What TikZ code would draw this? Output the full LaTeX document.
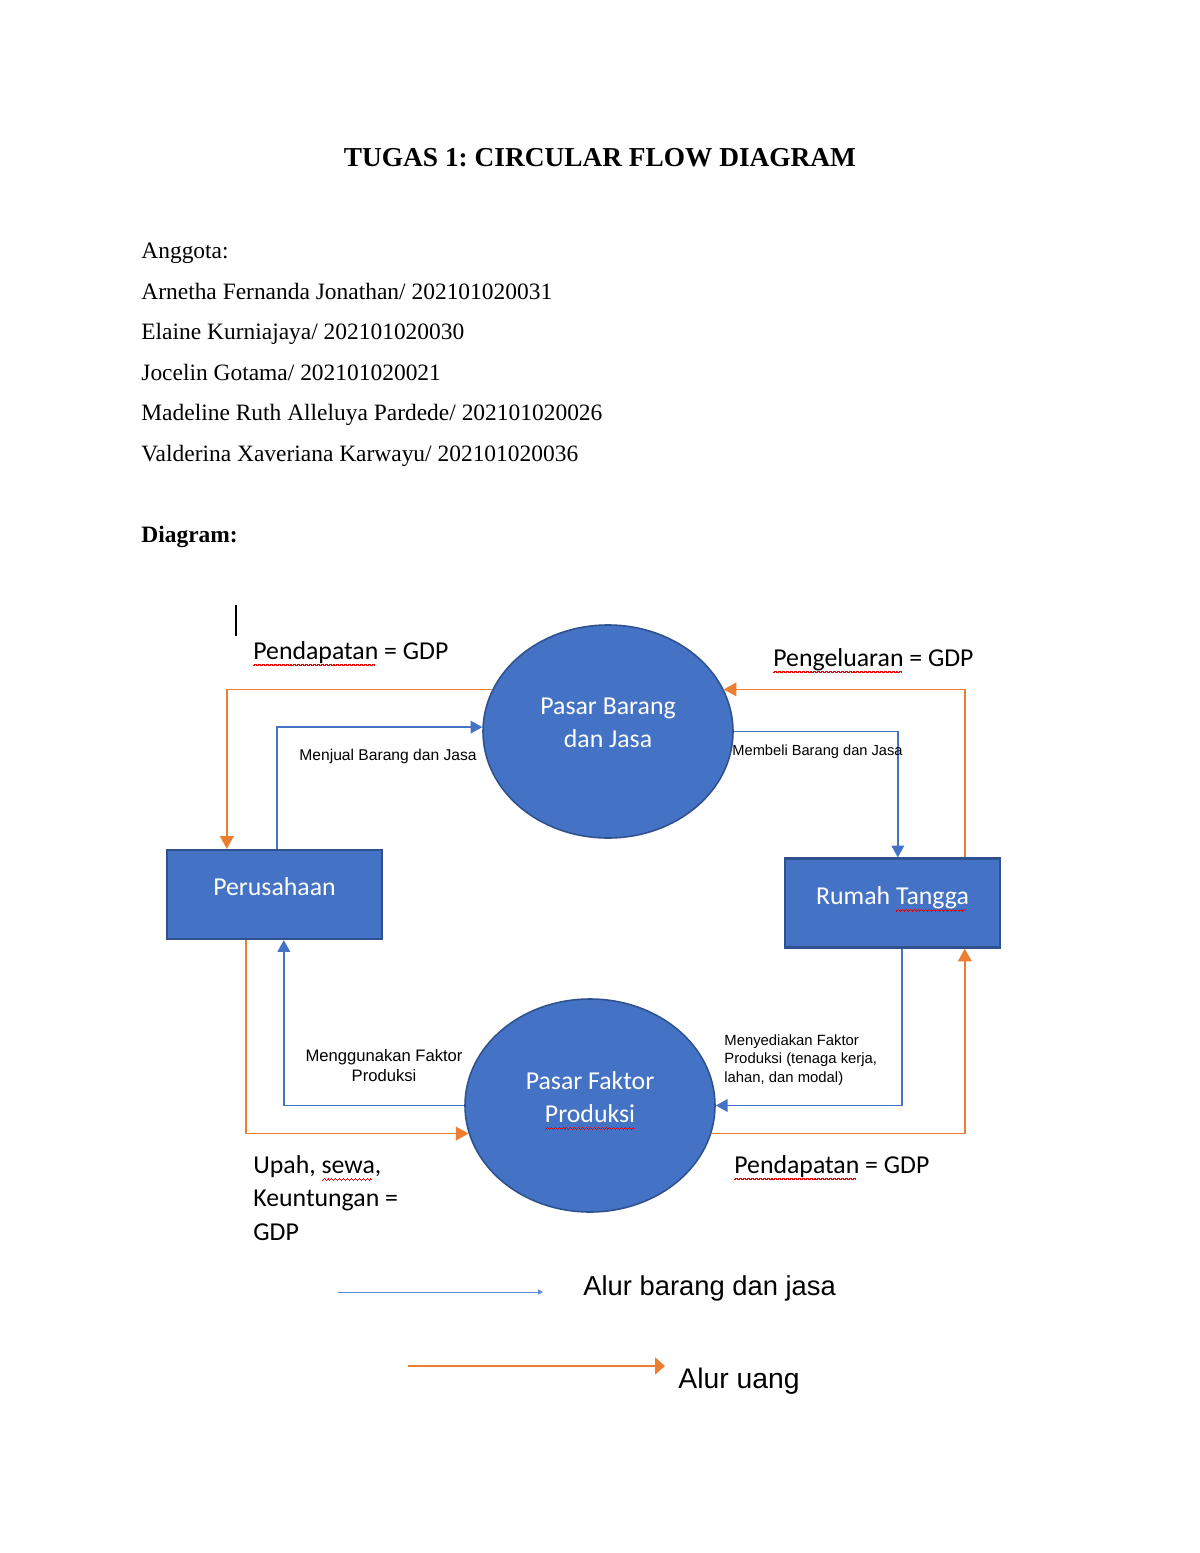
\documentclass[tikz,border=0pt]{standalone}
\usepackage{fontspec}
\setmainfont{Liberation Serif}
\newfontfamily\calibri{Carlito}
\newfontfamily\arial{Liberation Sans}
\usepackage{tikz}
\usetikzlibrary{arrows.meta,shapes,calc}
\frenchspacing
\definecolor{BoxBlue}{RGB}{68,114,196}
\definecolor{EdgeBlue}{RGB}{47,82,143}
\definecolor{Orange}{RGB}{237,125,49}
\definecolor{LineBlue}{RGB}{68,114,196}
\definecolor{LegendBlue}{RGB}{91,140,220}
\definecolor{SpellRed}{RGB}{230,0,0}
\newsavebox{\spellbox}
\newcommand{\spellwave}[1]{\sbox{\spellbox}{#1}\rlap{\color{SpellRed}\leaders\hbox{\rule[-3.8pt]{0.5pt}{0.55pt}\rule[-3.35pt]{0.5pt}{0.55pt}\rule[-2.9pt]{0.5pt}{0.55pt}\rule[-3.35pt]{0.5pt}{0.55pt}}\hskip\wd\spellbox}\usebox{\spellbox}}

\begin{document}
\begin{tikzpicture}[x=0.017992cm, y=-0.017992cm,
    pasar/.style={ellipse, draw=EdgeBlue, line width=0.8pt, fill=BoxBlue, text=white, minimum width=4.498cm, minimum height=3.832cm, inner sep=0pt, align=center, font=\calibri\fontsize{13.2}{16.8}\selectfont, text depth=8.6pt},
    sektor/.style={rectangle, draw=EdgeBlue, line width=1.2pt, fill=BoxBlue, text=white, minimum width=3.868cm, minimum height=1.601cm, font=\calibri\fontsize{13.2}{16}\selectfont, text depth=8pt},
    uang/.style={-{Triangle[width=7pt,length=6.5pt]}, line width=0.8pt, draw=Orange},
    barang/.style={-{Triangle[width=6.5pt,length=6pt]}, line width=0.7pt, draw=LineBlue},
    catatan/.style={font=\calibri\fontsize{13.2}{17.1}\selectfont, anchor=base west, align=left, inner sep=0pt},
    kecil/.style={font=\arial\fontsize{8}{10.2}\selectfont, anchor=base west, inner sep=0pt},
    teks/.style={font=\fontsize{12}{20.7}\selectfont, anchor=base west, align=left, inner sep=0pt}]

    \fill[white] (0,0) rectangle (1200,1553);
    \useasboundingbox (0,0) rectangle (1200,1553);

    % judul dan anggota
    \node[font=\bfseries\fontsize{14}{17}\selectfont, anchor=base, inner sep=0pt] (judul) at (600,167) {TUGAS 1: CIRCULAR FLOW DIAGRAM};
    \node[teks] (anggota) at (141,461) {Anggota:\\Arnetha Fernanda Jonathan/ 202101020031\\Elaine Kurniajaya/ 202101020030\\Jocelin Gotama/ 202101020021\\Madeline Ruth Alleluya Pardede/ 202101020026\\Valderina Xaveriana Karwayu/ 202101020036};
    \node[teks, font=\bfseries\fontsize{12}{14}\selectfont] (diagram) at (141,542) {Diagram:};

    \draw[line width=0.6pt] (236,605) -- (236,636);

    % pasar dan sektor
    \node[pasar] (pbj) at (608,731.5) {Pasar Barang\\dan Jasa};
    \node[pasar] (pf) at (590,1105.5) {Pasar Faktor\\\spellwave{Produksi}};
    \node[sektor] (per) at (274.5,894.5) {Perusahaan};
    \node[sektor] (rt) at (892.5,903) {Rumah \spellwave{Tangga}};

    % alur uang
    \draw[uang] (pbj.160) -| ($(per.north west)+(61,0)$);
    \draw[uang] ($(rt.north west)+(181,0)$) |- (pbj.20);
    \draw[uang] ($(per.south west)+(80,0)$) |- (pf.193);
    \draw[uang] (pf.-13) -| ($(rt.south west)+(181,0)$);

    % alur barang
    \draw[barang] ($(per.north west)+(111,0)$) |- (pbj.178);
    \draw[barang] (pbj.east) -| ($(rt.north west)+(114,0)$);
    \draw[barang] ($(rt.south west)+(118,0)$) |- (pf.east);
    \draw[barang] (pf.west) -| ($(per.south west)+(118,0)$);

    % keterangan
    \node[catatan] (pendatas) at (253,659) {\spellwave{Pendapatan} = GDP};
    \node[catatan] (keluar) at (773,666) {\spellwave{Pengeluaran} = GDP};
    \node[catatan] (upah) at (253,1240) {Upah, \spellwave{sewa},\\Keuntungan =\\GDP};
    \node[catatan] (pendbawah) at (734,1173) {\spellwave{Pendapatan} = GDP};
    \node[kecil] (jual) at (299,760) {Menjual Barang dan Jasa};
    \node[kecil, font=\arial\fontsize{7.5}{9.5}\selectfont] (beli) at (732,755) {Membeli Barang dan Jasa};
    \node[kecil, anchor=base, align=center, font=\arial\fontsize{8.5}{10.2}\selectfont] (guna) at (384,1081) {Menggunakan Faktor\\Produksi};
    \node[kecil, align=left, font=\arial\fontsize{7.6}{9.4}\selectfont] (sedia) at (724,1082) {Menyediakan Faktor\\Produksi (tenaga kerja,\\lahan, dan modal)};

    % legenda
    \coordinate (lgbawal) at (338,1292);
    \coordinate (lgbakhir) at (543,1292);
    \coordinate (lguawal) at (408,1366);
    \coordinate (lguakhir) at (665,1366);
    \draw[-{Triangle[width=2.5pt,length=2.5pt]}, line width=0.5pt, draw=LegendBlue] (lgbawal) -- (lgbakhir);
    \draw[-{Triangle[width=8.5pt,length=5pt]}, line width=1.5pt, draw=Orange] (lguawal) -- (lguakhir);
    \node[font=\arial\fontsize{14}{17}\selectfont, anchor=base west, inner sep=0pt] (alurbarang) at (583,1295) {Alur barang dan jasa};
    \node[font=\arial\fontsize{14.5}{17}\selectfont, anchor=base west, inner sep=0pt] (aluruang) at (678,1388) {Alur uang};
\end{tikzpicture}
\end{document}
